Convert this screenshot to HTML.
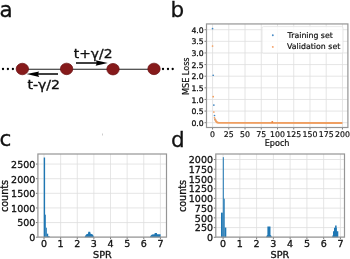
<!DOCTYPE html>
<html><head><meta charset="utf-8"><title>Figure</title>
<style>
html,body{margin:0;padding:0;background:#fff;}
body{width:350px;height:259px;overflow:hidden;}
svg{display:block;filter:blur(0.3px);}
text{font-family:"DejaVu Sans", "Liberation Sans", sans-serif;fill:#111;stroke:#111;stroke-width:0.3px;}
text.lt{stroke-width:0.2px;}
</style></head>
<body>
<svg width="350" height="259" viewBox="0 0 350 259">
<rect width="350" height="259" fill="#fff"/>
<text x="-0.50" y="16.60" font-size="21.5" text-anchor="start" >a</text>
<line x1="22" y1="69.3" x2="154" y2="69.3" stroke="#1e1e1e" stroke-width="1.1"/>
<ellipse cx="22.35" cy="69.0" rx="6.2" ry="5.75" fill="#861a1b" stroke="#680e10" stroke-width="0.7"/>
<ellipse cx="66.6" cy="68.9" rx="6.2" ry="5.75" fill="#861a1b" stroke="#680e10" stroke-width="0.7"/>
<ellipse cx="113.0" cy="69.2" rx="6.2" ry="5.75" fill="#861a1b" stroke="#680e10" stroke-width="0.7"/>
<ellipse cx="154.0" cy="68.9" rx="6.2" ry="5.75" fill="#861a1b" stroke="#680e10" stroke-width="0.7"/>
<circle cx="3.0" cy="69.0" r="1.15" fill="#000"/>
<circle cx="7.9" cy="69.0" r="1.15" fill="#000"/>
<circle cx="12.9" cy="69.0" r="1.15" fill="#000"/>
<circle cx="163.0" cy="69.0" r="1.15" fill="#000"/>
<circle cx="168.0" cy="69.0" r="1.15" fill="#000"/>
<circle cx="172.7" cy="69.0" r="1.15" fill="#000"/>
<line x1="76.0" y1="63.0" x2="98" y2="63.0" stroke="#000" stroke-width="1.5"/>
<path d="M107.8 63.0 L95.6 60.3 Q97.6 63.0 95.6 65.7 Z" fill="#000"/>
<line x1="58.0" y1="74.0" x2="36" y2="74.0" stroke="#000" stroke-width="1.5"/>
<path d="M26.6 74.1 L39.2 71.5 Q37.2 74.1 39.2 76.9 Z" fill="#000"/>
<text x="73.80" y="57.60" font-size="12.0" text-anchor="start" textLength="38.7" lengthAdjust="spacingAndGlyphs">t+γ/2</text>
<text x="27.40" y="88.70" font-size="12.2" text-anchor="start" textLength="32.6" lengthAdjust="spacingAndGlyphs">t-γ/2</text>
<text x="170.50" y="16.70" font-size="21.5" text-anchor="start" >b</text>
<line x1="212.55" y1="23.95" x2="212.55" y2="127.5" stroke="#dedede" stroke-width="0.8"/>
<line x1="228.79" y1="23.95" x2="228.79" y2="127.5" stroke="#dedede" stroke-width="0.8"/>
<line x1="245.03" y1="23.95" x2="245.03" y2="127.5" stroke="#dedede" stroke-width="0.8"/>
<line x1="261.26" y1="23.95" x2="261.26" y2="127.5" stroke="#dedede" stroke-width="0.8"/>
<line x1="277.50" y1="23.95" x2="277.50" y2="127.5" stroke="#dedede" stroke-width="0.8"/>
<line x1="293.74" y1="23.95" x2="293.74" y2="127.5" stroke="#dedede" stroke-width="0.8"/>
<line x1="309.98" y1="23.95" x2="309.98" y2="127.5" stroke="#dedede" stroke-width="0.8"/>
<line x1="326.21" y1="23.95" x2="326.21" y2="127.5" stroke="#dedede" stroke-width="0.8"/>
<line x1="342.45" y1="23.95" x2="342.45" y2="127.5" stroke="#dedede" stroke-width="0.8"/>
<line x1="206.5" y1="122.70" x2="347.9" y2="122.70" stroke="#dedede" stroke-width="0.8"/>
<line x1="206.5" y1="111.08" x2="347.9" y2="111.08" stroke="#dedede" stroke-width="0.8"/>
<line x1="206.5" y1="99.45" x2="347.9" y2="99.45" stroke="#dedede" stroke-width="0.8"/>
<line x1="206.5" y1="87.83" x2="347.9" y2="87.83" stroke="#dedede" stroke-width="0.8"/>
<line x1="206.5" y1="76.20" x2="347.9" y2="76.20" stroke="#dedede" stroke-width="0.8"/>
<line x1="206.5" y1="64.58" x2="347.9" y2="64.58" stroke="#dedede" stroke-width="0.8"/>
<line x1="206.5" y1="52.95" x2="347.9" y2="52.95" stroke="#dedede" stroke-width="0.8"/>
<line x1="206.5" y1="41.33" x2="347.9" y2="41.33" stroke="#dedede" stroke-width="0.8"/>
<line x1="206.5" y1="29.70" x2="347.9" y2="29.70" stroke="#dedede" stroke-width="0.8"/>
<circle cx="212.55" cy="28.54" r="0.85" fill="#3f86c2"/><circle cx="213.20" cy="75.27" r="0.85" fill="#3f86c2"/><circle cx="213.85" cy="105.03" r="0.85" fill="#3f86c2"/><circle cx="214.50" cy="115.49" r="0.85" fill="#3f86c2"/><circle cx="215.15" cy="119.45" r="0.85" fill="#3f86c2"/><circle cx="212.55" cy="45.98" r="0.85" fill="#f59a55"/><circle cx="213.20" cy="96.66" r="0.85" fill="#f59a55"/><circle cx="213.85" cy="112.00" r="0.85" fill="#f59a55"/><circle cx="214.50" cy="117.82" r="0.85" fill="#f59a55"/>
<path d="M215.0 119.0 Q215.9 122.5 218.6 122.9 L342.45 123.0" fill="none" stroke="#ef9f62" stroke-width="1.9"/>
<circle cx="272.3" cy="121.9" r="0.95" fill="#e8803a"/>
<line x1="212.55" y1="127.5" x2="212.55" y2="129.50" stroke="#5a5a5a" stroke-width="0.8"/>
<text x="212.55" y="136.70" font-size="7.8" text-anchor="middle" class="lt">0</text>
<line x1="228.79" y1="127.5" x2="228.79" y2="129.50" stroke="#5a5a5a" stroke-width="0.8"/>
<text x="228.79" y="136.70" font-size="7.8" text-anchor="middle" class="lt">25</text>
<line x1="245.03" y1="127.5" x2="245.03" y2="129.50" stroke="#5a5a5a" stroke-width="0.8"/>
<text x="245.03" y="136.70" font-size="7.8" text-anchor="middle" class="lt">50</text>
<line x1="261.26" y1="127.5" x2="261.26" y2="129.50" stroke="#5a5a5a" stroke-width="0.8"/>
<text x="261.26" y="136.70" font-size="7.8" text-anchor="middle" class="lt">75</text>
<line x1="277.50" y1="127.5" x2="277.50" y2="129.50" stroke="#5a5a5a" stroke-width="0.8"/>
<text x="277.50" y="136.70" font-size="7.8" text-anchor="middle" class="lt">100</text>
<line x1="293.74" y1="127.5" x2="293.74" y2="129.50" stroke="#5a5a5a" stroke-width="0.8"/>
<text x="293.74" y="136.70" font-size="7.8" text-anchor="middle" class="lt">125</text>
<line x1="309.98" y1="127.5" x2="309.98" y2="129.50" stroke="#5a5a5a" stroke-width="0.8"/>
<text x="309.98" y="136.70" font-size="7.8" text-anchor="middle" class="lt">150</text>
<line x1="326.21" y1="127.5" x2="326.21" y2="129.50" stroke="#5a5a5a" stroke-width="0.8"/>
<text x="326.21" y="136.70" font-size="7.8" text-anchor="middle" class="lt">175</text>
<line x1="342.45" y1="127.5" x2="342.45" y2="129.50" stroke="#5a5a5a" stroke-width="0.8"/>
<text x="342.45" y="136.70" font-size="7.8" text-anchor="middle" class="lt">200</text>
<line x1="204.50" y1="122.70" x2="206.5" y2="122.70" stroke="#5a5a5a" stroke-width="0.8"/>
<text x="203.70" y="125.80" font-size="7.7" text-anchor="end" >0.0</text>
<line x1="204.50" y1="111.08" x2="206.5" y2="111.08" stroke="#5a5a5a" stroke-width="0.8"/>
<text x="203.70" y="114.17" font-size="7.7" text-anchor="end" >0.5</text>
<line x1="204.50" y1="99.45" x2="206.5" y2="99.45" stroke="#5a5a5a" stroke-width="0.8"/>
<text x="203.70" y="102.55" font-size="7.7" text-anchor="end" >1.0</text>
<line x1="204.50" y1="87.83" x2="206.5" y2="87.83" stroke="#5a5a5a" stroke-width="0.8"/>
<text x="203.70" y="90.92" font-size="7.7" text-anchor="end" >1.5</text>
<line x1="204.50" y1="76.20" x2="206.5" y2="76.20" stroke="#5a5a5a" stroke-width="0.8"/>
<text x="203.70" y="79.30" font-size="7.7" text-anchor="end" >2.0</text>
<line x1="204.50" y1="64.58" x2="206.5" y2="64.58" stroke="#5a5a5a" stroke-width="0.8"/>
<text x="203.70" y="67.67" font-size="7.7" text-anchor="end" >2.5</text>
<line x1="204.50" y1="52.95" x2="206.5" y2="52.95" stroke="#5a5a5a" stroke-width="0.8"/>
<text x="203.70" y="56.05" font-size="7.7" text-anchor="end" >3.0</text>
<line x1="204.50" y1="41.33" x2="206.5" y2="41.33" stroke="#5a5a5a" stroke-width="0.8"/>
<text x="203.70" y="44.43" font-size="7.7" text-anchor="end" >3.5</text>
<line x1="204.50" y1="29.70" x2="206.5" y2="29.70" stroke="#5a5a5a" stroke-width="0.8"/>
<text x="203.70" y="32.80" font-size="7.7" text-anchor="end" >4.0</text>
<rect x="206.5" y="23.95" width="141.40" height="103.55" fill="none" stroke="#959595" stroke-width="1.2"/>
<text x="277.10" y="145.50" font-size="8.1" text-anchor="middle" class="lt">Epoch</text>
<text class="lt" transform="translate(188.9 76.2) rotate(-90)" font-size="8.1" text-anchor="middle">MSE Loss</text>
<rect x="262.0" y="26.6" width="81.0" height="26.5" rx="1.5" fill="#fff" fill-opacity="0.8" stroke="#e2e2e2" stroke-width="0.8"/>
<circle cx="272.8" cy="35.2" r="0.95" fill="#4a8cc6"/>
<circle cx="272.8" cy="46.9" r="0.95" fill="#f5a068"/>
<text x="287.60" y="37.60" font-size="7.8" text-anchor="start" class="lt" textLength="45.2">Training set</text>
<text x="287.00" y="48.80" font-size="7.8" text-anchor="start" class="lt" textLength="53.3">Validation set</text>
<text x="-0.60" y="145.70" font-size="21.5" text-anchor="start" >c</text>
<line x1="44.00" y1="154.0" x2="44.00" y2="237.1" stroke="#dedede" stroke-width="0.8"/>
<line x1="60.63" y1="154.0" x2="60.63" y2="237.1" stroke="#dedede" stroke-width="0.8"/>
<line x1="77.26" y1="154.0" x2="77.26" y2="237.1" stroke="#dedede" stroke-width="0.8"/>
<line x1="93.89" y1="154.0" x2="93.89" y2="237.1" stroke="#dedede" stroke-width="0.8"/>
<line x1="110.52" y1="154.0" x2="110.52" y2="237.1" stroke="#dedede" stroke-width="0.8"/>
<line x1="127.15" y1="154.0" x2="127.15" y2="237.1" stroke="#dedede" stroke-width="0.8"/>
<line x1="143.78" y1="154.0" x2="143.78" y2="237.1" stroke="#dedede" stroke-width="0.8"/>
<line x1="160.41" y1="154.0" x2="160.41" y2="237.1" stroke="#dedede" stroke-width="0.8"/>
<line x1="37.9" y1="237.20" x2="166.5" y2="237.20" stroke="#dedede" stroke-width="0.8"/>
<line x1="37.9" y1="222.57" x2="166.5" y2="222.57" stroke="#dedede" stroke-width="0.8"/>
<line x1="37.9" y1="207.95" x2="166.5" y2="207.95" stroke="#dedede" stroke-width="0.8"/>
<line x1="37.9" y1="193.32" x2="166.5" y2="193.32" stroke="#dedede" stroke-width="0.8"/>
<line x1="37.9" y1="178.70" x2="166.5" y2="178.70" stroke="#dedede" stroke-width="0.8"/>
<line x1="37.9" y1="164.07" x2="166.5" y2="164.07" stroke="#dedede" stroke-width="0.8"/>
<rect x="43.7" y="157.52" width="1.40" height="79.68" fill="#1f77b4"/>
<rect x="45.1" y="214.68" width="0.80" height="22.52" fill="#1f77b4"/>
<rect x="45.9" y="227.69" width="0.90" height="9.51" fill="#1f77b4"/>
<rect x="46.8" y="233.69" width="1.40" height="3.51" fill="#1f77b4"/>
<rect x="48.2" y="236.03" width="1.30" height="1.17" fill="#1f77b4"/>
<path d="M84.5 237.2 L85.4 235.6 L86.4 234.3 L88.0 233.7 L88.3 231.8 L90.2 231.8 L90.6 233.7 L92.4 234.2 L93.4 235.4 L94.0 237.2 Z" fill="#1f77b4"/>
<path d="M149.8 237.2 L150.6 235.8 L152.0 234.6 L154.5 234.3 L154.7 232.9 L156.9 232.9 L157.1 234.3 L160.6 234.3 L160.6 237.2 Z" fill="#1f77b4"/>
<line x1="44.00" y1="237.1" x2="44.00" y2="239.10" stroke="#5a5a5a" stroke-width="0.8"/>
<text x="44.00" y="247.30" font-size="9.5" text-anchor="middle" >0</text>
<line x1="60.63" y1="237.1" x2="60.63" y2="239.10" stroke="#5a5a5a" stroke-width="0.8"/>
<text x="60.63" y="247.30" font-size="9.5" text-anchor="middle" >1</text>
<line x1="77.26" y1="237.1" x2="77.26" y2="239.10" stroke="#5a5a5a" stroke-width="0.8"/>
<text x="77.26" y="247.30" font-size="9.5" text-anchor="middle" >2</text>
<line x1="93.89" y1="237.1" x2="93.89" y2="239.10" stroke="#5a5a5a" stroke-width="0.8"/>
<text x="93.89" y="247.30" font-size="9.5" text-anchor="middle" >3</text>
<line x1="110.52" y1="237.1" x2="110.52" y2="239.10" stroke="#5a5a5a" stroke-width="0.8"/>
<text x="110.52" y="247.30" font-size="9.5" text-anchor="middle" >4</text>
<line x1="127.15" y1="237.1" x2="127.15" y2="239.10" stroke="#5a5a5a" stroke-width="0.8"/>
<text x="127.15" y="247.30" font-size="9.5" text-anchor="middle" >5</text>
<line x1="143.78" y1="237.1" x2="143.78" y2="239.10" stroke="#5a5a5a" stroke-width="0.8"/>
<text x="143.78" y="247.30" font-size="9.5" text-anchor="middle" >6</text>
<line x1="160.41" y1="237.1" x2="160.41" y2="239.10" stroke="#5a5a5a" stroke-width="0.8"/>
<text x="160.41" y="247.30" font-size="9.5" text-anchor="middle" >7</text>
<line x1="35.90" y1="237.20" x2="37.9" y2="237.20" stroke="#5a5a5a" stroke-width="0.8"/>
<text x="35.30" y="241.00" font-size="9.5" text-anchor="end" >0</text>
<line x1="35.90" y1="222.57" x2="37.9" y2="222.57" stroke="#5a5a5a" stroke-width="0.8"/>
<text x="35.30" y="226.38" font-size="9.5" text-anchor="end" >500</text>
<line x1="35.90" y1="207.95" x2="37.9" y2="207.95" stroke="#5a5a5a" stroke-width="0.8"/>
<text x="35.30" y="211.75" font-size="9.5" text-anchor="end" >1000</text>
<line x1="35.90" y1="193.32" x2="37.9" y2="193.32" stroke="#5a5a5a" stroke-width="0.8"/>
<text x="35.30" y="197.12" font-size="9.5" text-anchor="end" >1500</text>
<line x1="35.90" y1="178.70" x2="37.9" y2="178.70" stroke="#5a5a5a" stroke-width="0.8"/>
<text x="35.30" y="182.50" font-size="9.5" text-anchor="end" >2000</text>
<line x1="35.90" y1="164.07" x2="37.9" y2="164.07" stroke="#5a5a5a" stroke-width="0.8"/>
<text x="35.30" y="167.88" font-size="9.5" text-anchor="end" >2500</text>
<rect x="37.9" y="154.0" width="128.60" height="83.10" fill="none" stroke="#959595" stroke-width="1.2"/>
<text transform="translate(102.4 258.0) scale(1.15 1)" font-size="8.4" text-anchor="middle">SPR</text>
<text transform="translate(8.1 196.05) rotate(-90)" font-size="9.6" text-anchor="middle">counts</text>
<rect x="102" y="133.5" width="0.9" height="2" fill="#c8c8c8"/>
<text x="171.00" y="146.50" font-size="21.5" text-anchor="start" >d</text>
<line x1="223.10" y1="154.0" x2="223.10" y2="237.1" stroke="#dedede" stroke-width="0.8"/>
<line x1="239.86" y1="154.0" x2="239.86" y2="237.1" stroke="#dedede" stroke-width="0.8"/>
<line x1="256.62" y1="154.0" x2="256.62" y2="237.1" stroke="#dedede" stroke-width="0.8"/>
<line x1="273.38" y1="154.0" x2="273.38" y2="237.1" stroke="#dedede" stroke-width="0.8"/>
<line x1="290.14" y1="154.0" x2="290.14" y2="237.1" stroke="#dedede" stroke-width="0.8"/>
<line x1="306.90" y1="154.0" x2="306.90" y2="237.1" stroke="#dedede" stroke-width="0.8"/>
<line x1="323.66" y1="154.0" x2="323.66" y2="237.1" stroke="#dedede" stroke-width="0.8"/>
<line x1="340.42" y1="154.0" x2="340.42" y2="237.1" stroke="#dedede" stroke-width="0.8"/>
<line x1="215.8" y1="237.30" x2="344.5" y2="237.30" stroke="#dedede" stroke-width="0.8"/>
<line x1="215.8" y1="227.58" x2="344.5" y2="227.58" stroke="#dedede" stroke-width="0.8"/>
<line x1="215.8" y1="217.85" x2="344.5" y2="217.85" stroke="#dedede" stroke-width="0.8"/>
<line x1="215.8" y1="208.12" x2="344.5" y2="208.12" stroke="#dedede" stroke-width="0.8"/>
<line x1="215.8" y1="198.40" x2="344.5" y2="198.40" stroke="#dedede" stroke-width="0.8"/>
<line x1="215.8" y1="188.68" x2="344.5" y2="188.68" stroke="#dedede" stroke-width="0.8"/>
<line x1="215.8" y1="178.95" x2="344.5" y2="178.95" stroke="#dedede" stroke-width="0.8"/>
<line x1="215.8" y1="169.23" x2="344.5" y2="169.23" stroke="#dedede" stroke-width="0.8"/>
<line x1="215.8" y1="159.50" x2="344.5" y2="159.50" stroke="#dedede" stroke-width="0.8"/>
<rect x="221.0" y="212.64" width="1.80" height="24.66" fill="#1f77b4"/>
<rect x="222.8" y="157.17" width="1.00" height="80.13" fill="#1f77b4"/>
<rect x="223.8" y="198.71" width="0.90" height="38.59" fill="#1f77b4"/>
<rect x="224.7" y="227.58" width="1.60" height="9.72" fill="#1f77b4"/>
<path d="M266.1 237.3 L266.6 235.70000000000002 L267.4 235.10000000000002 L267.4 226.41 L270.5 226.41 L270.5 235.10000000000002 L271.3 235.70000000000002 L271.9 237.3 Z" fill="#1f77b4"/>
<path d="M332.2 237.3 L332.6 235.2 L333.0 235.2 L333.0 231.2 L334.0 231.2 L334.0 227.7 L335.1 227.7 L335.1 225.5 L336.6 225.5 L336.6 227.7 L336.9 227.7 L336.9 231.2 L338.3 231.2 L338.3 237.3 Z" fill="#1f77b4"/>
<line x1="223.10" y1="237.1" x2="223.10" y2="239.10" stroke="#5a5a5a" stroke-width="0.8"/>
<text x="223.10" y="247.30" font-size="9.5" text-anchor="middle" >0</text>
<line x1="239.86" y1="237.1" x2="239.86" y2="239.10" stroke="#5a5a5a" stroke-width="0.8"/>
<text x="239.86" y="247.30" font-size="9.5" text-anchor="middle" >1</text>
<line x1="256.62" y1="237.1" x2="256.62" y2="239.10" stroke="#5a5a5a" stroke-width="0.8"/>
<text x="256.62" y="247.30" font-size="9.5" text-anchor="middle" >2</text>
<line x1="273.38" y1="237.1" x2="273.38" y2="239.10" stroke="#5a5a5a" stroke-width="0.8"/>
<text x="273.38" y="247.30" font-size="9.5" text-anchor="middle" >3</text>
<line x1="290.14" y1="237.1" x2="290.14" y2="239.10" stroke="#5a5a5a" stroke-width="0.8"/>
<text x="290.14" y="247.30" font-size="9.5" text-anchor="middle" >4</text>
<line x1="306.90" y1="237.1" x2="306.90" y2="239.10" stroke="#5a5a5a" stroke-width="0.8"/>
<text x="306.90" y="247.30" font-size="9.5" text-anchor="middle" >5</text>
<line x1="323.66" y1="237.1" x2="323.66" y2="239.10" stroke="#5a5a5a" stroke-width="0.8"/>
<text x="323.66" y="247.30" font-size="9.5" text-anchor="middle" >6</text>
<line x1="340.42" y1="237.1" x2="340.42" y2="239.10" stroke="#5a5a5a" stroke-width="0.8"/>
<text x="340.42" y="247.30" font-size="9.5" text-anchor="middle" >7</text>
<line x1="213.80" y1="237.30" x2="215.8" y2="237.30" stroke="#5a5a5a" stroke-width="0.8"/>
<text x="213.00" y="241.10" font-size="9.5" text-anchor="end" >0</text>
<line x1="213.80" y1="227.58" x2="215.8" y2="227.58" stroke="#5a5a5a" stroke-width="0.8"/>
<text x="213.00" y="231.38" font-size="9.5" text-anchor="end" >250</text>
<line x1="213.80" y1="217.85" x2="215.8" y2="217.85" stroke="#5a5a5a" stroke-width="0.8"/>
<text x="213.00" y="221.65" font-size="9.5" text-anchor="end" >500</text>
<line x1="213.80" y1="208.12" x2="215.8" y2="208.12" stroke="#5a5a5a" stroke-width="0.8"/>
<text x="213.00" y="211.93" font-size="9.5" text-anchor="end" >750</text>
<line x1="213.80" y1="198.40" x2="215.8" y2="198.40" stroke="#5a5a5a" stroke-width="0.8"/>
<text x="213.00" y="202.20" font-size="9.5" text-anchor="end" >1000</text>
<line x1="213.80" y1="188.68" x2="215.8" y2="188.68" stroke="#5a5a5a" stroke-width="0.8"/>
<text x="213.00" y="192.48" font-size="9.5" text-anchor="end" >1250</text>
<line x1="213.80" y1="178.95" x2="215.8" y2="178.95" stroke="#5a5a5a" stroke-width="0.8"/>
<text x="213.00" y="182.75" font-size="9.5" text-anchor="end" >1500</text>
<line x1="213.80" y1="169.23" x2="215.8" y2="169.23" stroke="#5a5a5a" stroke-width="0.8"/>
<text x="213.00" y="173.03" font-size="9.5" text-anchor="end" >1750</text>
<line x1="213.80" y1="159.50" x2="215.8" y2="159.50" stroke="#5a5a5a" stroke-width="0.8"/>
<text x="213.00" y="163.30" font-size="9.5" text-anchor="end" >2000</text>
<rect x="215.8" y="154.0" width="128.70" height="83.10" fill="none" stroke="#959595" stroke-width="1.2"/>
<text transform="translate(279.85 258.2) scale(1.15 1)" font-size="8.4" text-anchor="middle">SPR</text>
<text transform="translate(186.0 196.05) rotate(-90)" font-size="9.6" text-anchor="middle">counts</text>
</svg>
</body></html>
